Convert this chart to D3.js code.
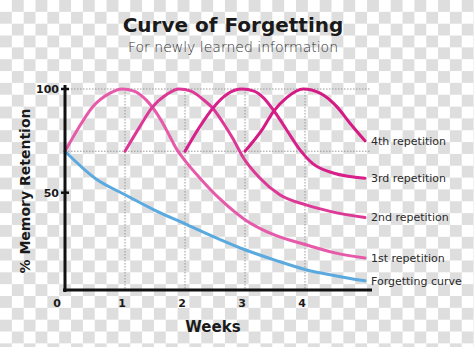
<!DOCTYPE html>
<html>
<head>
<meta charset="utf-8">
<script src="https://cdn.jsdelivr.net/npm/d3@7"></script>
<style>
  body { margin: 0; background: #fff; }
  text { font-family: "DejaVu Sans", "Open Sans", sans-serif; }
</style>
</head>
<body>
<svg id="chart" width="474" height="347"></svg>
<script>
// weeks / % retention
const forgetting = [[0,70],[0.5,57],[1,49],[1.5,41.5],[2,35],[2.5,28.5],[3,22.5],[3.5,17.5],[4,13],[4.5,10],[5,7.5]];
const rep1 = [[0,70],[0.2,80],[0.45,91],[0.75,98],[0.95,100],[1.15,99],[1.36,94.5],[1.6,85],[1.75,77],[1.86,71],[2,65.5],[2.25,57],[2.6,46.5],[3,37],[3.5,29.5],[4,25],[4.5,21],[5,18.5]];
const rep2 = [[1,70],[1.25,82],[1.45,91],[1.7,97.5],[1.9,100],[2.1,99],[2.3,95],[2.47,90.5],[2.65,83],[2.8,76],[2.97,67],[3.25,57],[3.58,49],[4.03,44],[4.42,41],[5,38]];
const rep3 = [[2,70],[2.25,82],[2.47,91],[2.7,97.5],[2.95,100],[3.15,99],[3.3,96],[3.47,90],[3.7,80],[3.92,70.5],[4.13,64],[4.47,59.5],[5,57]];
const rep4 = [[3,70],[3.3,81],[3.47,89],[3.7,96],[3.97,100],[4.25,98],[4.53,91.5],[4.75,83.5],[5,75]];

const seriesNames = ["Forgetting curve", "1st repetition", "2nd repetition", "3rd repetition", "4th repetition"];
const seriesData = [forgetting, rep1, rep2, rep3, rep4];
const seriesColors = ["#5aaae0", "#e65aa9", "#dd3896", "#d8208a", "#d51a83"];

const weekTicks = [0, 1, 2, 3, 4];
const retentionTicks = [50, 100];
const guideLevels = [70, 100];

const svg = d3.select("#chart");

// checkerboard backdrop (transparent png look)
const sq = 11.84;
const pat = svg.append("defs").append("pattern")
    .attr("id", "checker")
    .attr("patternUnits", "userSpaceOnUse")
    .attr("width", sq * 2).attr("height", sq * 2);
pat.append("rect").attr("width", sq * 2).attr("height", sq * 2).attr("fill", "#ffffff");
pat.append("rect").attr("x", sq).attr("y", 0).attr("width", sq).attr("height", sq).attr("fill", "#dedede");
pat.append("rect").attr("x", 0).attr("y", sq).attr("width", sq).attr("height", sq).attr("fill", "#dedede");
svg.append("rect").attr("width", 474).attr("height", 347).attr("fill", "url(#checker)");

const x = d3.scaleLinear().domain([0, 5]).range([65, 365]);
const y = d3.scaleLinear().domain([0, 100]).range([296.4, 89]);
const axisY = 290;

// title
svg.append("text")
    .attr("x", 233).attr("y", 32)
    .attr("text-anchor", "middle")
    .style("font-size", "20px").style("font-weight", "bold")
    .attr("fill", "#1a1a1a")
    .text("Curve of Forgetting");

svg.append("text")
    .attr("x", 233).attr("y", 52)
    .attr("text-anchor", "middle")
    .style("font-size", "14px").style("font-weight", "300")
    .attr("fill", "#333")
    .text("For newly learned information");

// dotted guides
const guides = svg.append("g")
    .attr("stroke", "#999")
    .attr("stroke-width", 1)
    .attr("stroke-dasharray", "1.5,1.5");

guideLevels.forEach(v => {
    guides.append("line")
        .attr("x1", x(0)).attr("x2", 370)
        .attr("y1", y(v)).attr("y2", y(v));
});
weekTicks.filter(d => d > 0).forEach(d => {
    guides.append("line")
        .attr("x1", x(d)).attr("x2", x(d))
        .attr("y1", y(100)).attr("y2", axisY);
});

// curves
const line = d3.line()
    .x(d => x(d[0]))
    .y(d => y(d[1]))
    .curve(d3.curveMonotoneX);

seriesData.forEach((data, i) => {
    svg.append("path")
        .datum(data)
        .attr("fill", "none")
        .attr("stroke", seriesColors[i])
        .attr("stroke-width", 3)
        .attr("stroke-linecap", "round")
        .attr("d", line);

    const last = data[data.length - 1];
    svg.append("text")
        .attr("x", x(last[0]) + 6)
        .attr("y", y(last[1]))
        .attr("dy", "0.35em")
        .style("font-size", "11px")
        .attr("fill", "#2a2a2a")
        .text(seriesNames[i]);
});

// axes
svg.append("line")
    .attr("x1", x(0)).attr("x2", x(0))
    .attr("y1", y(100) - 4).attr("y2", axisY + 2)
    .attr("stroke", "#111").attr("stroke-width", 3);

svg.append("line")
    .attr("x1", x(0) - 2).attr("x2", 372)
    .attr("y1", axisY).attr("y2", axisY)
    .attr("stroke", "#111").attr("stroke-width", 3);

retentionTicks.forEach(v => {
    svg.append("line")
        .attr("x1", x(0) - 4).attr("x2", x(0) + 4)
        .attr("y1", y(v)).attr("y2", y(v))
        .attr("stroke", "#111").attr("stroke-width", 2.5);
    svg.append("text")
        .attr("x", x(0) - 6).attr("y", y(v))
        .attr("dy", "0.35em")
        .attr("text-anchor", "end")
        .style("font-size", "11px").style("font-weight", "bold")
        .attr("fill", "#1a1a1a")
        .text(v);
});

weekTicks.forEach(d => {
    svg.append("text")
        .attr("x", x(d) - (d === 0 ? 8 : 3)).attr("y", 303)
        .attr("dy", "0.35em")
        .attr("text-anchor", "middle")
        .style("font-size", "11px").style("font-weight", "bold")
        .attr("fill", "#1a1a1a")
        .text(d);
});

svg.append("text")
    .attr("x", 213).attr("y", 332)
    .attr("text-anchor", "middle")
    .style("font-size", "15px").style("font-weight", "bold")
    .attr("fill", "#1a1a1a")
    .text("Weeks");

svg.append("text")
    .attr("transform", "translate(30,191) rotate(-90)")
    .attr("text-anchor", "middle")
    .style("font-size", "14px").style("font-weight", "bold")
    .attr("fill", "#1a1a1a")
    .text("% Memory Retention");
</script>
</body>
</html>
